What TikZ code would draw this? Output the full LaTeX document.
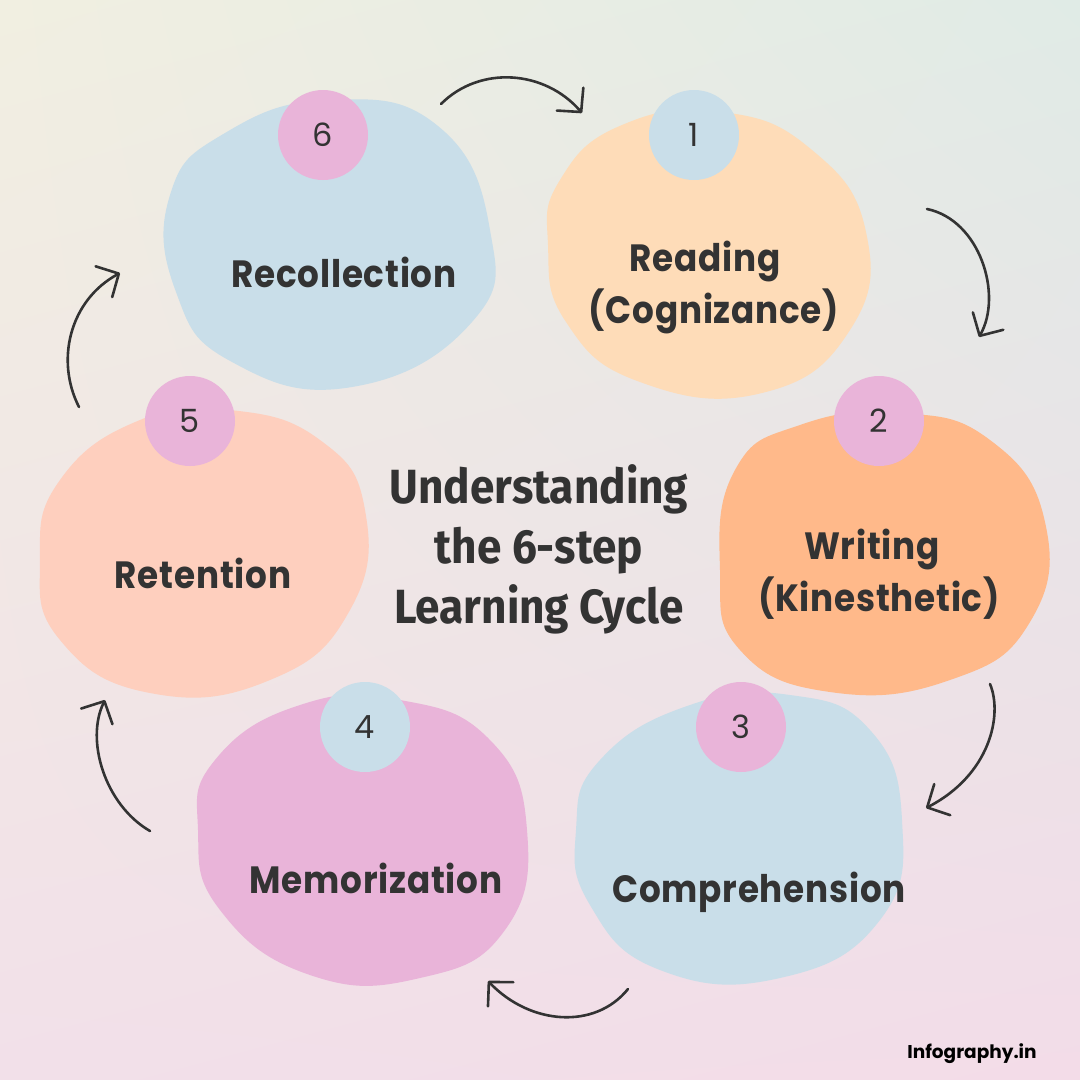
\documentclass[tikz,border=0pt]{standalone}
\usepackage{fontspec}
\usetikzlibrary{arrows.meta,shadings}
\newfontfamily\labelfont[FakeStretch=0.9,LetterSpace=2]{Poppins}
\newfontfamily\brandfont{Poppins}
\newfontfamily\numfont{Poppins}
\newfontfamily\titlefont[FakeStretch=0.92]{Fira Sans}
\definecolor{ink}{HTML}{333333}
\definecolor{sky}{HTML}{C9DEE9}
\definecolor{peach}{HTML}{FEDCB8}
\definecolor{orange}{HTML}{FFB98A}
\definecolor{pinkb}{HTML}{E9B4D9}
\definecolor{salmon}{HTML}{FECFBE}
\definecolor{bgA}{HTML}{F1EFE1}
\definecolor{bgB}{HTML}{E0EBE6}
\definecolor{bgC}{HTML}{F2E0E9}
\definecolor{bgD}{HTML}{F3DCE8}
\begin{document}
\begin{tikzpicture}[x=1pt,y=-1pt,
  numc/.style={circle, minimum size=90pt, inner sep=0pt, font=\numfont\fontsize{32}{32}\selectfont, text=ink},
  lab/.style={font=\labelfont\bfseries\fontsize{38}{52}\selectfont, text=ink, align=center},
  cyc/.style={line width=2.6pt, draw=ink, line cap=round, -{Straight Barb[length=17pt,width=35pt,round]}}
]
\useasboundingbox (0,0) rectangle (1080,1080);
\shade[upper left=bgA, upper right=bgB, lower left=bgC, lower right=bgD] (0,0) rectangle (1080,1080);

% blobs
\fill[sky] plot[smooth cycle, tension=0.8] coordinates {(170,195) (225,133) (330,100) (438,126) (490,230) (472,322) (352,387) (232,362) (176,292)};
\fill[peach] plot[smooth cycle, tension=0.8] coordinates {(560,180) (622,125) (722,112) (812,150) (866,232) (850,330) (762,393) (640,382) (566,322) (548,245)};
\fill[orange] plot[smooth cycle, tension=0.8] coordinates {(735,470) (800,425) (900,413) (990,440) (1045,522) (1030,622) (950,680) (830,692) (740,650) (720,570)};
\fill[sky] plot[smooth cycle, tension=0.8] coordinates {(600,760) (690,705) (790,695) (870,730) (902,820) (880,920) (780,978) (660,970) (590,905) (576,830)};
\fill[pinkb] plot[smooth cycle, tension=0.8] coordinates {(215,760) (300,705) (400,700) (490,740) (527,830) (505,930) (420,978) (310,975) (220,910) (198,830)};
\fill[salmon] plot[smooth cycle, tension=0.8] coordinates {(60,480) (140,420) (230,410) (320,440) (365,510) (350,610) (270,680) (150,693) (60,640) (40,560)};

% number badges
\node[numc, fill=pinkb] (n6) at (323,135) {6};
\node[numc, fill=sky]   (n1) at (694,135) {1};
\node[numc, fill=pinkb] (n2) at (879,421) {2};
\node[numc, fill=pinkb] (n3) at (741,727) {3};
\node[numc, fill=sky]   (n4) at (365,727) {4};
\node[numc, fill=pinkb] (n5) at (190,421) {5};

% labels
\node[lab] (l6) at (344,272) {Recollection};
\node[lab] (l1) at (714,287) {\hspace*{-18pt}Reading\\(Cognizance)};
\node[lab] (l2) at (879,574) {\hspace*{-14pt}Writing\\(Kinesthetic)};
\node[lab] (l3) at (759,892) {Comprehension};
\node[lab] (l4) at (376,878) {Memorization};
\node[lab] (l5) at (203,573) {Retention};

\node[font=\titlefont\bfseries\fontsize{48}{60}\selectfont, text=ink, align=center] (title) at (539,549) {Understanding\\the 6-step\\Learning Cycle};

\node[font=\brandfont\bfseries\fontsize{18.5}{18.5}\selectfont, text=black] (brand) at (972,1054) {Infography.in};

% cycle arrows
\coordinate (a1s) at (441,104); \coordinate (a1e) at (582,113);
\coordinate (a2s) at (927,209); \coordinate (a2e) at (979,337);
\coordinate (a3s) at (990,684); \coordinate (a3e) at (926,808);
\coordinate (a4s) at (628,989); \coordinate (a4e) at (488,981);
\coordinate (a5s) at (150,831); \coordinate (a5e) at (105,700);
\coordinate (a6s) at (79,407);  \coordinate (a6e) at (120,273);
\draw[cyc] (a1s) .. controls (480,65) and (545,70) .. (a1e);
\draw[cyc] (a2s) .. controls (980,220) and (1003,295) .. (a2e);
\draw[cyc] (a3s) .. controls (1003,715) and (990,775) .. (a3e);
\draw[cyc] (a4s) .. controls (595,1030) and (530,1025) .. (a4e);
\draw[cyc] (a5s) .. controls (105,805) and (85,740) .. (a5e);
\draw[cyc] (a6s) .. controls (55,360) and (70,300) .. (a6e);
\end{tikzpicture}
\end{document}
